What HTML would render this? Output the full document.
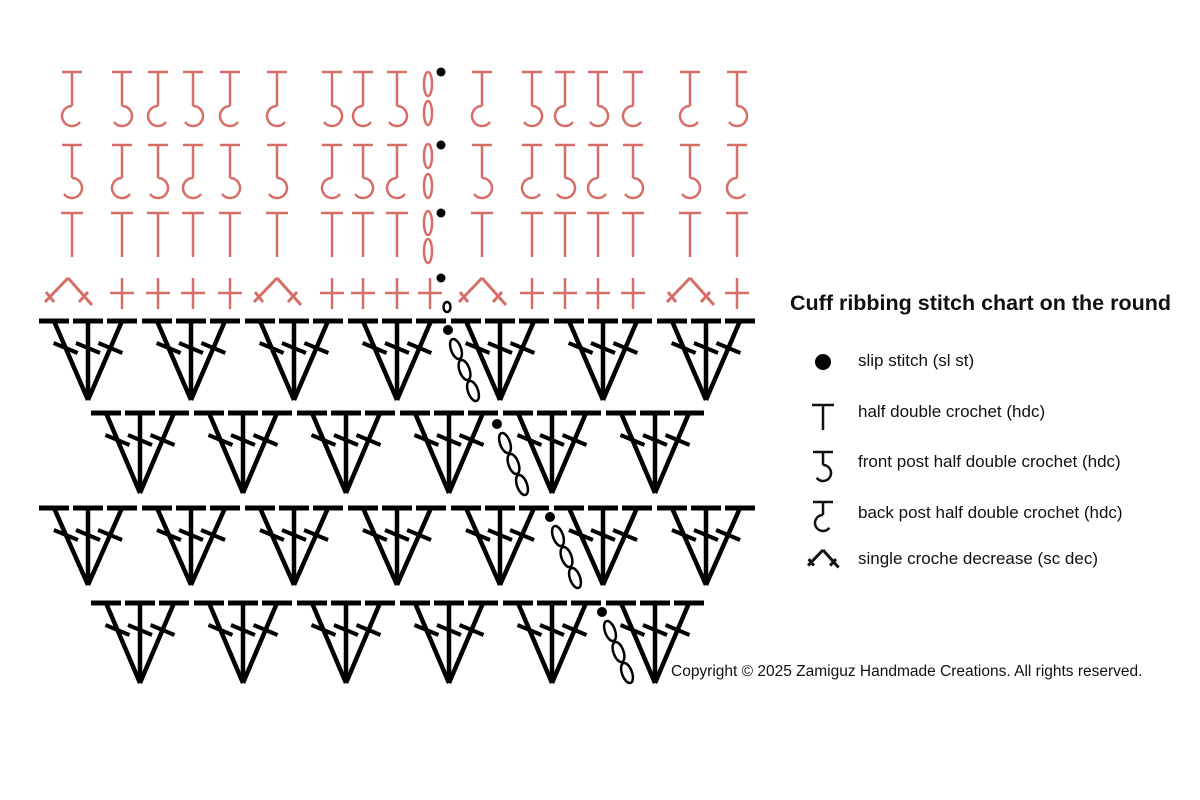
<!DOCTYPE html>
<html><head><meta charset="utf-8"><style>
body{margin:0;background:#fff;width:1200px;height:800px;overflow:hidden;font-family:"Liberation Sans",sans-serif}
svg{position:absolute;left:0;top:0}
.t{position:absolute;color:#111;font-size:17px;white-space:nowrap}
</style></head><body>
<svg id="s" width="1200" height="800" xmlns="http://www.w3.org/2000/svg"></svg>
<div class="t" style="left:790px;top:291px;font-size:21.5px;font-weight:bold">Cuff ribbing stitch chart on the round</div>
<div class="t" style="left:858px;top:351px">slip stitch (sl st)</div>
<div class="t" style="left:858px;top:402px">half double crochet (hdc)</div>
<div class="t" style="left:858px;top:452px">front post half double crochet (hdc)</div>
<div class="t" style="left:858px;top:503px">back post half double crochet (hdc)</div>
<div class="t" style="left:858px;top:549px">single croche decrease (sc dec)</div>
<div class="t" style="left:671px;top:663px;font-size:15.5px">Copyright © 2025 Zamiguz Handmade Creations. All rights reserved.</div>
<script>
var s=document.getElementById('s'),h='';
var R='#d66e68';
function L(x1,y1,x2,y2,c,w){h+='<line x1="'+x1+'" y1="'+y1+'" x2="'+x2+'" y2="'+y2+'" stroke="'+c+'" stroke-width="'+w+'"/>';}
function hdc(x,t,b,c){c=c||R;L(x-11,t,x+11,t,c,2.5);L(x,t,x,b,c,2.5);}
function post(x,t,b,fp,c,r){c=c||R;r=r||10;L(x-10,t,x+10,t,c,2.5);L(x,t,x,b-2*r,c,2.5);
 var d=fp?-1:1;
 h+='<path d="M'+x+' '+(b-2*r)+' A'+r+' '+r+' 0 1 '+(fp?1:0)+' '+(x+d*r*0.8)+' '+(b-r*0.4)+'" fill="none" stroke="'+c+'" stroke-width="2.5"/>';}
function plus(x,y,c){c=c||R;L(x-12,y,x+12,y,c,2.5);L(x,y-15,x,y+16,c,2.5);}
function dec(x,c,y,k){c=c||R;y=y||278;k=k||1;L(x-23*k,y+24*k,x,y,c,3);L(x,y,x+24*k,y+27*k,c,3);L(x-22*k,y+14*k,x-14*k,y+24*k,c,3);L(x+11*k,y+24*k,x+20*k,y+14*k,c,3);}
function dot(x,y,r){h+='<circle cx="'+x+'" cy="'+y+'" r="'+(r||4.5)+'" fill="#000"/>';}
function ov(x,y,rx,ry,c,rot){h+='<ellipse cx="'+x+'" cy="'+y+'" rx="'+rx+'" ry="'+ry+'" fill="none" stroke="'+c+'" stroke-width="2.5" transform="rotate('+(rot||0)+' '+x+' '+y+')"/>';}
var cols=[72,122,158,193,230,277,332,363,397,482,532,565,598,633,690,737];
var r1="bfbfbbfbfbfbfbbf", r2="fbfbffbfbfbfbffb";
cols.forEach(function(x,i){
 post(x,72,126,r1[i]=='f');
 post(x,145,198,r2[i]=='f');
 hdc(x,213,257);
});
[122,158,193,230,332,363,397,430,532,565,598,633,737].forEach(function(x){plus(x,293);});
[68,277,482,690].forEach(function(x){dec(x);});
[[428,84],[428,113],[428,156],[428,186],[428,223],[428,251]].forEach(function(p){ov(p[0],p[1],4,12,R);});
[72,145,213,278].forEach(function(y){dot(441,y,4.5);});
ov(447,307,3.5,5,'#000');
function V(cx,T,B){
 var xs=[cx-34,cx,cx+34];
 xs.forEach(function(x){L(x-15,T,x+15,T,'#000',5);L(x,T,cx,B,'#000',4.5);
  var ty=T+27, tx=x+(cx-x)*(27/(B-T));L(tx-12,ty-5,tx+12,ty+5,'#000',4);});
}
var rows=[[88,7,321,400],[140,6,413,493],[88,7,508,585],[140,6,603,683]];
rows.forEach(function(r){for(var k=0;k<r[1];k++)V(r[0]+103*k,r[2],r[3]);});
[[448,330],[497,424],[550,517],[602,612]].forEach(function(p){
 dot(p[0],p[1],5);
 for(var k=0;k<3;k++)ov(p[0]+8+k*8.5,p[1]+19+k*21,5,10.5,'#000',-20);
});
dot(823,362,8);
hdc(823,405,430,'#111');
post(823,452,481,true,'#111',8);
post(823,502,531,false,'#111',8);
dec(823,'#111',550,0.65);
s.innerHTML=h;
</script>
</body></html>
